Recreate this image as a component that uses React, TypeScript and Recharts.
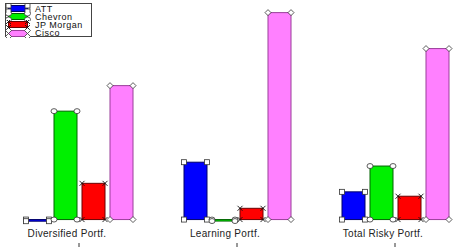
import { Bar, BarChart, Legend, XAxis, YAxis } from "recharts";

const categories = ["Diversified Portf.", "Learning Portf.", "Total Risky Portf."];
const att = [-0.06, 2.09, 1.01];
const chevron = [3.95, -0.03, 1.95];
const jpMorgan = [1.32, 0.41, 0.85];
const cisco = [4.88, 7.54, 6.23];
const yTicks = [-1, 0, 1, 2, 3, 4, 5, 6, 7, 8];

const data = categories.map((name, i) => ({
  name,
  att: att[i],
  chevron: chevron[i],
  jpMorgan: jpMorgan[i],
  cisco: cisco[i]
}));

type Marker = "square" | "circle" | "x" | "diamond";

const series: Array<{ key: string; name: string; fill: string; stroke: string; marker: Marker }> = [
  { key: "att", name: "ATT", fill: "#0000FF", stroke: "#00006A", marker: "square" },
  { key: "chevron", name: "Chevron", fill: "#00F000", stroke: "#006400", marker: "circle" },
  { key: "jpMorgan", name: "JP Morgan", fill: "#FF0000", stroke: "#6A0000", marker: "x" },
  { key: "cisco", name: "Cisco", fill: "#FF80FF", stroke: "#9A3E9A", marker: "diamond" }
];

const font = "'Liberation Sans', Arial, Helvetica, sans-serif";

function MarkerGlyph({ cx, cy, type }: { cx: number; cy: number; type: Marker }) {
  if (type === "square") {
    return <rect x={cx - 2.5} y={cy - 2.5} width={5} height={5} fill="#fff" stroke="#333" strokeWidth={0.8} />;
  }
  if (type === "circle") {
    return <ellipse cx={cx} cy={cy} rx={3} ry={2.5} fill="#fff" stroke="#333" strokeWidth={0.8} />;
  }
  if (type === "diamond") {
    return (
      <path
        d={`M${cx},${cy - 3}L${cx + 3},${cy}L${cx},${cy + 3}L${cx - 3},${cy}Z`}
        fill="#fff"
        stroke="#333"
        strokeWidth={0.8}
      />
    );
  }
  return (
    <path
      d={`M${cx - 2.5},${cy - 2.5}L${cx + 2.5},${cy + 2.5}M${cx - 2.5},${cy + 2.5}L${cx + 2.5},${cy - 2.5}`}
      stroke="#111"
      strokeWidth={0.9}
    />
  );
}

function MarkedBar(props: any) {
  const { x, y, width, height, fill, stroke, marker } = props;
  const top = Math.min(y, y + height);
  const h = Math.max(Math.abs(height), 1.5);
  return (
    <g>
      <rect x={x} y={top} width={width} height={h} fill={fill} stroke={stroke} strokeWidth={1} />
      <MarkerGlyph cx={x} cy={top} type={marker} />
      <MarkerGlyph cx={x + width} cy={top} type={marker} />
      <MarkerGlyph cx={x} cy={top + h} type={marker} />
      <MarkerGlyph cx={x + width} cy={top + h} type={marker} />
    </g>
  );
}

function CategoryTick(props: any) {
  const { x, y, payload } = props;
  return (
    <text
      x={x - 12}
      y={y}
      dy={-4}
      textAnchor="middle"
      fontFamily={font}
      fontSize={10}
      letterSpacing={0.3}
      fill="#222"
    >
      {payload.value}
    </text>
  );
}

function LegendBox(props: any) {
  const payload = [...(props.payload || [])].sort(
    (a: any, b: any) =>
      series.findIndex((s) => s.key === a.dataKey) - series.findIndex((s) => s.key === b.dataKey)
  );
  return (
    <div
      style={{
        border: "1px solid #444",
        background: "#fff",
        width: 87,
        height: 34,
        padding: "0.5px 0",
        fontFamily: font,
        fontSize: 9,
        letterSpacing: 0.5,
        lineHeight: "8.3px",
        boxSizing: "border-box"
      }}
    >
      {payload.map((entry: any) => {
        const s = series.find((item) => item.key === entry.dataKey) || series[0];
        return (
          <div key={s.key} style={{ display: "flex", alignItems: "center", height: 8.2 }}>
            <svg width={29} height={9} style={{ display: "block", flex: "none" }}>
              <rect x={2.5} y={1.5} width={19} height={6} fill={s.fill} stroke={s.stroke} strokeWidth={1} />
              <MarkerGlyph cx={2.5} cy={1.5} type={s.marker} />
              <MarkerGlyph cx={21.5} cy={1.5} type={s.marker} />
              <MarkerGlyph cx={2.5} cy={7.5} type={s.marker} />
              <MarkerGlyph cx={21.5} cy={7.5} type={s.marker} />
            </svg>
            <span style={{ color: "#111", whiteSpace: "nowrap", lineHeight: "8.2px" }}>{entry.value}</span>
          </div>
        );
      })}
    </div>
  );
}

export default function App() {
  return (
    <div style={{ position: "absolute", left: 0, top: 0, width: 474, height: 247, background: "#fff" }}>
      <BarChart
        width={474}
        height={247}
        data={data}
        margin={{ top: 0, right: 0, bottom: 0, left: 0 }}
        barSize={23}
        barGap={5}
      >
        <XAxis
          dataKey="name"
          mirror
          axisLine={false}
          tickSize={4}
          tickLine={{ stroke: "#333" }}
          tick={<CategoryTick />}
          interval={0}
        />
        <XAxis
          xAxisId="top"
          dataKey="name"
          orientation="top"
          mirror
          axisLine={false}
          tickSize={3}
          tickLine={{ stroke: "#333" }}
          tick={false}
        />
        <YAxis
          domain={[-1, 8]}
          ticks={yTicks}
          mirror
          width={0}
          axisLine={false}
          tickSize={5}
          tickLine={{ stroke: "#333" }}
          tick={false}
        />
        <YAxis
          yAxisId="right"
          orientation="right"
          domain={[-1, 8]}
          ticks={yTicks}
          mirror
          width={0}
          axisLine={false}
          tickSize={5}
          tickLine={{ stroke: "#333" }}
          tick={false}
        />
        {series.map((s) => (
          <Bar
            key={s.key}
            dataKey={s.key}
            name={s.name}
            fill={s.fill}
            stroke={s.stroke}
            isAnimationActive={false}
            shape={(p: any) => <MarkedBar {...p} fill={s.fill} stroke={s.stroke} marker={s.marker} />}
          />
        ))}
        <Legend
          content={<LegendBox />}
          layout="vertical"
          verticalAlign="middle"
          align="center"
          wrapperStyle={{ left: 5, top: 3, width: "auto", position: "absolute" }}
        />
      </BarChart>
    </div>
  );
}
